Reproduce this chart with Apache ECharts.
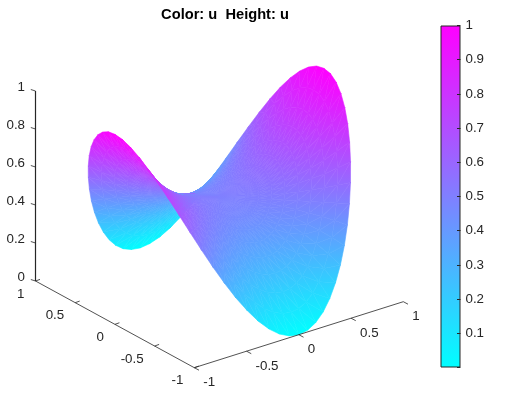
<!DOCTYPE html>
<html>
<head>
<meta charset="utf-8">
<style>html,body{margin:0;padding:0;background:#fff}#main{width:506px;height:395px}</style>
<script src="https://cdn.jsdelivr.net/npm/echarts@6/dist/echarts.min.js"></script>
</head>
<body>
<div id="main"></div>
<script>
var titleText = 'Color: u  Height: u';

// surface, rings of a unit disc (centre u = 0.5)
// the far half turn repeats the near one, so each ring lists 0..175 degrees
var ringRadii = [0.2, 0.3, 0.4, 0.5, 0.6, 0.7, 0.8, 0.9, 1];
var spokeAngles = [0,5,10,15,20,25,30,35,40,45,50,55,60,65,70,75,80,85,90,95,100,105,110,115,120,125,130,135,140,145,150,155,160,165,170,175];
var centreHeight = 0.5;
var ring02 = [.52,.52,.519,.517,.515,.513,.51,.507,.503,.5,.497,.493,.49,.487,.485,.483,.481,.48,.48,.48,.481,.483,.485,.487,.49,.493,.497,.5,.503,.507,.51,.513,.515,.517,.519,.52];
var ring03 = [.545,.544,.542,.539,.534,.529,.523,.515,.508,.5,.492,.485,.478,.471,.466,.461,.458,.456,.455,.456,.458,.461,.466,.471,.478,.485,.492,.5,.508,.515,.523,.529,.534,.539,.542,.544];
var ring04 = [.58,.579,.575,.569,.561,.551,.54,.527,.514,.5,.486,.473,.46,.449,.439,.431,.425,.421,.42,.421,.425,.431,.439,.449,.46,.473,.486,.5,.514,.527,.54,.551,.561,.569,.575,.579];
var ring05 = [.625,.623,.618,.608,.596,.58,.563,.543,.522,.5,.478,.457,.438,.42,.404,.392,.383,.377,.375,.377,.383,.392,.404,.42,.438,.457,.478,.5,.522,.543,.563,.58,.596,.608,.618,.623];
var ring06 = [.68,.677,.669,.656,.638,.616,.59,.562,.531,.5,.469,.438,.41,.384,.362,.344,.331,.323,.32,.323,.331,.344,.362,.384,.41,.438,.469,.5,.531,.562,.59,.616,.638,.656,.669,.677];
var ring07 = [.745,.741,.73,.712,.688,.658,.623,.584,.543,.5,.457,.416,.378,.342,.312,.288,.27,.259,.255,.259,.27,.288,.312,.342,.378,.416,.457,.5,.543,.584,.623,.658,.688,.712,.73,.741];
var ring08 = [.82,.815,.801,.777,.745,.706,.66,.609,.556,.5,.444,.391,.34,.294,.255,.223,.199,.185,.18,.185,.199,.223,.255,.294,.34,.391,.444,.5,.556,.609,.66,.706,.745,.777,.801,.815];
var ring09 = [.905,.899,.881,.851,.81,.76,.703,.639,.571,.5,.43,.362,.298,.24,.19,.149,.119,.101,.095,.101,.119,.149,.19,.24,.298,.362,.43,.5,.571,.639,.703,.76,.81,.851,.881,.899];
var ring10 = [1,.993,.97,.933,.883,.822,.75,.671,.587,.5,.413,.329,.25,.179,.117,.067,.03,.008,0,.008,.03,.067,.117,.179,.25,.329,.413,.5,.587,.671,.75,.822,.883,.933,.97,.993];
var rings = [ring02, ring03, ring04, ring05, ring06, ring07, ring08, ring09, ring10];

var xTicks = [-1, -0.5, 0, 0.5, 1];
var yTicks = [-1, -0.5, 0, 0.5, 1];
var zTicks = [0, 0.2, 0.4, 0.6, 0.8, 1];
var colorbarRange = [1];

var inkColor = '#262626';
var fontName = '"Liberation Sans", Arial, sans-serif';

// view(-37.5, 30) stretched to the axes box, in canvas pixels
function project(x, y, z) {
    return [
        219.4 + 104.5 * x - 79.4 * y,
        291.35 - 33 * x - 43.35 * y - 190 * z
    ];
}

function cool(u) {
    return 'rgb(' + Math.round(255 * u) + ',' + Math.round(255 * (1 - u)) + ',255)';
}

function pointAt(ringIndex, spokeIndex) {
    if (ringIndex < 0) {
        return [0, 0, centreHeight];
    }
    var n = spokeAngles.length;
    var wrapped = spokeIndex % (2 * n);
    var a = (spokeAngles[wrapped % n] + (wrapped >= n ? 180 : 0)) * Math.PI / 180;
    var r = ringRadii[ringIndex];
    return [r * Math.cos(a), r * Math.sin(a), rings[ringIndex][wrapped % n]];
}

var triangles = [];
function addTriangle(p, q, s) {
    triangles.push(p.concat(q, s));
}
for (var i = 0; i < ringRadii.length; i++) {
    for (var j = 0; j < 2 * spokeAngles.length; j++) {
        if (i === 0) {
            addTriangle(pointAt(-1, 0), pointAt(0, j), pointAt(0, j + 1));
        } else {
            addTriangle(pointAt(i - 1, j), pointAt(i, j), pointAt(i, j + 1));
            addTriangle(pointAt(i - 1, j), pointAt(i, j + 1), pointAt(i - 1, j + 1));
        }
    }
}
// far side of the floor first, the height field then paints correctly
function nearness(t) {
    return -0.6 * (t[0] + t[3] + t[6]) - 0.8 * (t[1] + t[4] + t[7]);
}
triangles.sort(function (a, b) { return nearness(a) - nearness(b); });

function renderTriangle(params, api) {
    var pts = [], k;
    for (k = 0; k < 3; k++) {
        var pr = project(api.value(k * 3), api.value(k * 3 + 1), api.value(k * 3 + 2));
        var c = api.coord(pr);
        pts.push({ x: c[0], y: c[1], u: api.value(k * 3 + 2) });
    }
    var sorted = pts.slice().sort(function (a, b) { return a.u - b.u; });
    var lo = sorted[0], mid = sorted[1], hi = sorted[2];
    var dx1 = mid.x - lo.x, dy1 = mid.y - lo.y, du1 = mid.u - lo.u;
    var dx2 = hi.x - lo.x, dy2 = hi.y - lo.y, du2 = hi.u - lo.u;
    var det = dx1 * dy2 - dx2 * dy1;
    var fill = cool((lo.u + mid.u + hi.u) / 3);
    if (Math.abs(det) > 1e-6 && du2 > 0.002) {
        // one shared ramp: the stops are always u = 0 and u = 1, placed on this triangle's plane
        var gx = (du1 * dy2 - du2 * dy1) / det;
        var gy = (dx1 * du2 - dx2 * du1) / det;
        var g2 = gx * gx + gy * gy;
        var sx = lo.x - gx / g2 * lo.u, sy = lo.y - gy / g2 * lo.u;
        fill = new echarts.graphic.LinearGradient(
            sx, sy, sx + gx / g2, sy + gy / g2,
            [{ offset: 0, color: cool(0) }, { offset: 1, color: cool(1) }],
            true
        );
    }
    return {
        type: 'polygon',
        shape: { points: pts.map(function (p) { return [p.x, p.y]; }) },
        style: { fill: fill, stroke: fill, lineWidth: 0.6, lineJoin: 'round' }
    };
}

// ruler items: ticks point along the box, labels sit off the corner
var rulerItems = [];
xTicks.forEach(function (v) {
    rulerItems.push({ at: [v, -1, 0], tick: [4.7, 2.5], label: String(v), off: [9, 15], align: 'left' });
});
yTicks.forEach(function (v) {
    rulerItems.push({ at: [-1, v, 0], tick: [4.5, -1.6], label: String(v), off: [-11, 13], align: 'right' });
});
zTicks.forEach(function (v) {
    rulerItems.push({ at: [-1, 1, v], tick: [-4.7, -1.5], label: String(v), off: [-10.5, -3.5], align: 'right' });
});
var rulerSpans = [
    [[-1, -1, 0], [1, -1, 0]],
    [[-1, -1, 0], [-1, 1, 0]],
    [[-1, 1, 0], [-1, 1, 1]]
];

function renderRulerItem(params, api) {
    var item = rulerItems[params.dataIndex];
    var c = api.coord(project(item.at[0], item.at[1], item.at[2]));
    return {
        type: 'group',
        children: [{
            type: 'line',
            shape: { x1: c[0], y1: c[1], x2: c[0] + item.tick[0], y2: c[1] + item.tick[1] },
            style: { stroke: inkColor, lineWidth: 0.8 }
        }, {
            type: 'text',
            style: {
                x: c[0] + item.off[0],
                y: c[1] + item.off[1],
                text: item.label,
                fill: inkColor,
                font: '13.33px ' + fontName,
                align: item.align,
                verticalAlign: 'middle'
            }
        }]
    };
}

function renderRulerSpan(params, api) {
    var span = rulerSpans[params.dataIndex];
    var a = api.coord(project(span[0][0], span[0][1], span[0][2]));
    var b = api.coord(project(span[1][0], span[1][1], span[1][2]));
    return {
        type: 'line',
        shape: { x1: a[0], y1: a[1], x2: b[0], y2: b[1] },
        style: { stroke: inkColor, lineWidth: params.dataIndex === 2 ? 1.2 : 0.8 }
    };
}

var myChart = echarts.init(document.getElementById('main'), null, { renderer: 'canvas' });

myChart.setOption({
    animation: false,
    backgroundColor: '#fff',
    title: {
        text: titleText,
        left: 220,
        top: 2,
        textAlign: 'center',
        textStyle: { fontSize: 14.67, fontWeight: 'bold', color: '#000', fontFamily: fontName }
    },
    grid: [
        { left: 0, top: 0, width: 506, height: 395 },
        { left: 440.5, top: 25.5, width: 20, height: 342 }
    ],
    xAxis: [
        { type: 'value', gridIndex: 0, min: 0, max: 506, show: false },
        { type: 'category', gridIndex: 1, data: ['u'], show: false }
    ],
    yAxis: [
        { type: 'value', gridIndex: 0, min: 0, max: 395, inverse: true, show: false },
        {
            type: 'value', gridIndex: 1, position: 'right', min: 0, max: 1, interval: 0.1, z: 5,
            axisLine: { show: false },
            axisTick: { show: true, inside: true, length: 3.5, lineStyle: { color: inkColor, width: 1 } },
            splitLine: { show: false },
            axisLabel: {
                color: inkColor, fontSize: 13.33, fontFamily: fontName, margin: 5,
                formatter: function (v) { return v === 0 ? '' : String(+v.toFixed(1)); }
            }
        }
    ],
    series: [{
        name: 'surface',
        type: 'custom',
        xAxisIndex: 0,
        yAxisIndex: 0,
        coordinateSystem: 'cartesian2d',
        clip: false,
        silent: true,
        progressive: 0,
        renderItem: renderTriangle,
        data: triangles
    }, {
        name: 'rulerSpans',
        type: 'custom',
        xAxisIndex: 0,
        yAxisIndex: 0,
        clip: false,
        silent: true,
        renderItem: renderRulerSpan,
        data: rulerSpans.map(function (s, i) { return [i, i]; })
    }, {
        name: 'rulerTicks',
        type: 'custom',
        xAxisIndex: 0,
        yAxisIndex: 0,
        clip: false,
        silent: true,
        renderItem: renderRulerItem,
        data: rulerItems.map(function (s, i) { return [i, i]; })
    }, {
        name: 'colorbar',
        type: 'bar',
        xAxisIndex: 1,
        yAxisIndex: 1,
        barWidth: '100%',
        silent: true,
        itemStyle: {
            borderColor: inkColor,
            borderWidth: 1,
            color: new echarts.graphic.LinearGradient(0, 0, 0, 1, [
                { offset: 0, color: cool(1) },
                { offset: 1, color: cool(0) }
            ])
        },
        data: colorbarRange
    }]
});
</script>
</body>
</html>
